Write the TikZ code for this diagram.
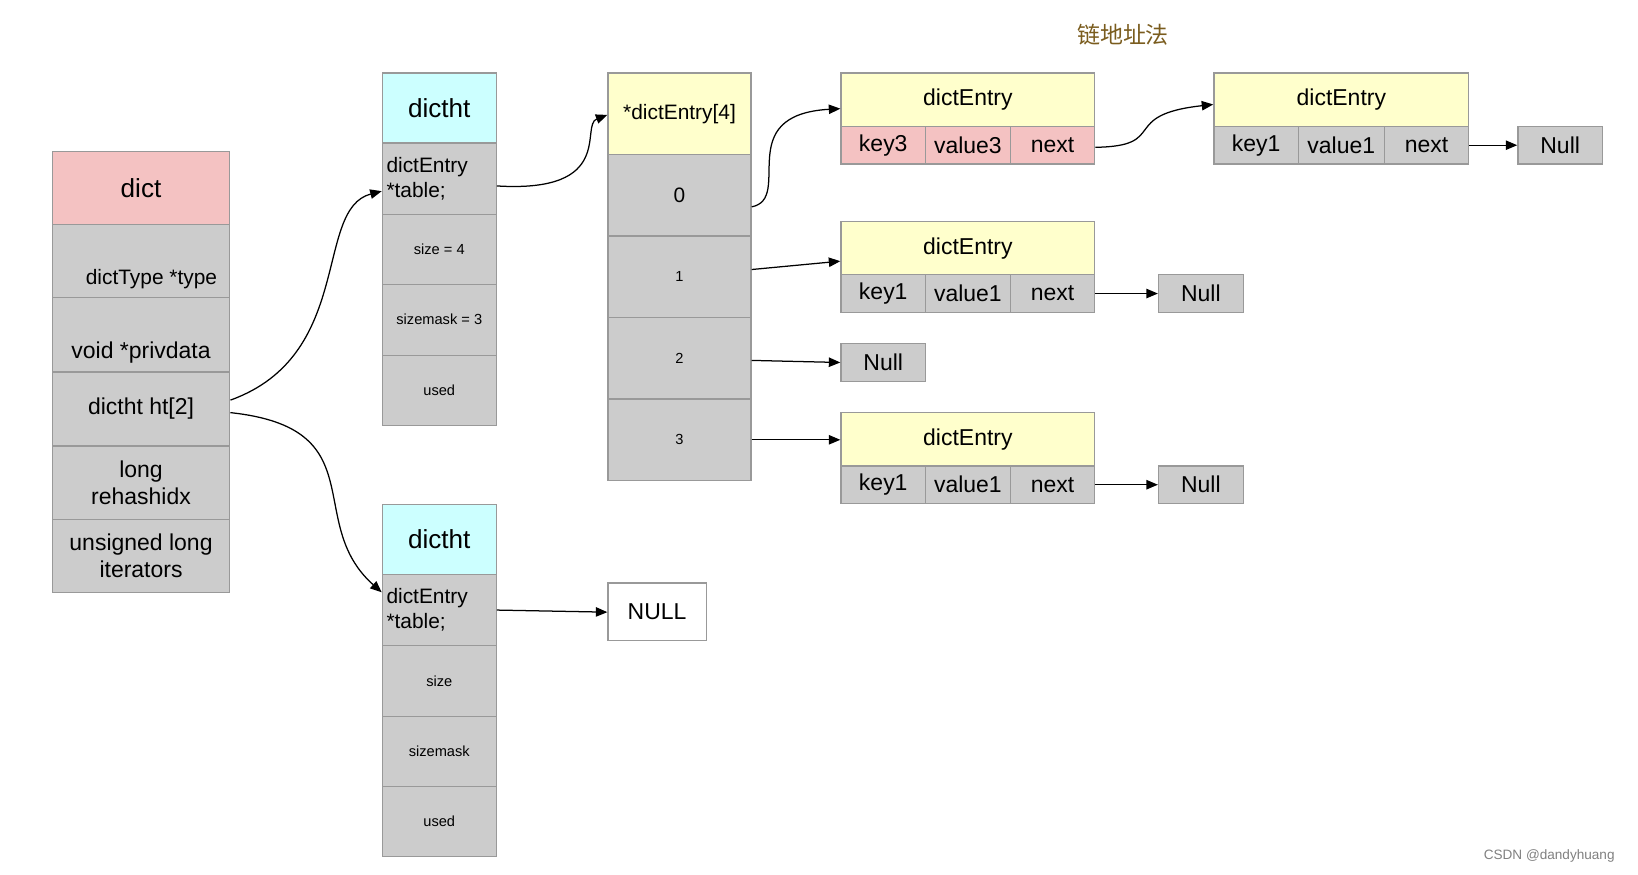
\documentclass[tikz,border=0pt]{standalone}
\usepackage{fontspec}
\setmainfont{Liberation Sans}
\newfontfamily\cjk{Noto Sans CJK SC}
\usetikzlibrary{arrows.meta}
\definecolor{gcell}{HTML}{CCCCCC}
\definecolor{gline}{HTML}{999999}
\definecolor{pinkc}{HTML}{F4C2C2}
\definecolor{cyanc}{HTML}{CCFFFF}
\definecolor{yelc}{HTML}{FFFFCC}
\definecolor{titlec}{HTML}{7A5C1E}
\tikzset{
 cell/.style={draw=gline,line width=1.2pt,fill=gcell,inner sep=0pt,align=center,font=\fontsize{20}{24}\selectfont},
 big/.style={font=\fontsize{25}{30}\selectfont},
 med/.style={font=\fontsize{22}{26}\selectfont},
 small/.style={font=\fontsize{14}{17}\selectfont},
 arr/.style={line width=1.2pt,-{Triangle[length=11pt,width=9pt]}},
}
\newcommand{\cel}[7]{\node[cell,#1,minimum width=#4pt,minimum height=#5pt] (#2) at (#3) {#6};}
\begin{document}
\begin{tikzpicture}[x=1pt,y=-1pt]
\useasboundingbox (0,0) rectangle (1568,837);
% dict
\node[cell,big,fill=pinkc,minimum width=170pt,minimum height=70pt] (dh) at (135,180) {dict};
\node[cell,minimum width=170pt,minimum height=70pt,text height=48pt] (d1) at (135,250) {\quad dictType *type};
\node[cell,med,minimum width=170pt,minimum height=71pt,text height=50pt] (d2) at (135,320.5) {void *privdata};
\node[cell,med,minimum width=170pt,minimum height=71pt] (d3) at (135,391.5) {dictht ht[2]};
\node[cell,med,minimum width=170pt,minimum height=70pt] (d4) at (135,462) {long\\rehashidx};
\node[cell,med,minimum width=170pt,minimum height=70pt] (d5) at (135,532) {unsigned long\\iterators};
% dictht 1
\node[cell,big,fill=cyanc,minimum width=109pt,minimum height=67pt] (ah) at (420.5,103.5) {dictht};
\node[cell,align=left,minimum width=109pt,minimum height=68pt,text width=101pt] (a1) at (420.5,171) {dictEntry\\**table;};
\node[cell,small,minimum width=109pt,minimum height=67pt] (a2) at (420.5,238.5) {size = 4};
\node[cell,small,minimum width=109pt,minimum height=68pt] (a3) at (420.5,306) {sizemask = 3};
\node[cell,small,minimum width=109pt,minimum height=67pt] (a4) at (420.5,373.5) {used};
% dictht 2
\node[cell,big,fill=cyanc,minimum width=109pt,minimum height=67pt] (bh) at (420.5,516.5) {dictht};
\node[cell,align=left,minimum width=109pt,minimum height=68pt,text width=101pt] (b1) at (420.5,584) {dictEntry\\**table;};
\node[cell,small,minimum width=109pt,minimum height=68pt] (b2) at (420.5,652) {size};
\node[cell,small,minimum width=109pt,minimum height=67pt] (b3) at (420.5,719.5) {sizemask};
\node[cell,small,minimum width=109pt,minimum height=67pt] (b4) at (420.5,786.5) {used};
% array
\node[cell,fill=yelc,minimum width=137pt,minimum height=78pt] (th) at (650.5,109) {*dictEntry[4]};
\node[cell,minimum width=137pt,minimum height=78pt] (t0) at (650.5,187) {0};
\node[cell,small,minimum width=137pt,minimum height=78pt] (t1) at (650.5,265) {1};
\node[cell,small,minimum width=137pt,minimum height=78pt] (t2) at (650.5,343) {2};
\node[cell,small,minimum width=137pt,minimum height=78pt] (t3) at (650.5,421) {3};
\node[cell,med,fill=white,minimum width=94pt,minimum height=55pt] (nul) at (629,585.5) {NULL};
% entry A
\node[cell,med,fill=yelc,minimum width=243pt,minimum height=51pt] (eah) at (926.5,95.5) {dictEntry};
\node[cell,med,fill=pinkc,minimum width=81pt,minimum height=36pt] (eak) at (845.5,139) {key3};
\node[cell,med,fill=pinkc,minimum width=81pt,minimum height=36pt] (eav) at (926.5,139) {value3};
\node[cell,med,fill=pinkc,minimum width=81pt,minimum height=36pt] (ean) at (1007.5,139) {next};
% entry B
\node[cell,med,fill=yelc,minimum width=244pt,minimum height=51pt] (ebh) at (1284,95.5) {dictEntry};
\node[cell,med,minimum width=81pt,minimum height=36pt] (ebk) at (1202.5,139) {key1};
\node[cell,med,minimum width=82pt,minimum height=36pt] (ebv) at (1284,139) {value1};
\node[cell,med,minimum width=81pt,minimum height=36pt] (ebn) at (1365.5,139) {next};
\node[cell,med,minimum width=81pt,minimum height=36pt] (nb) at (1493.5,139) {Null};
% entry C
\node[cell,med,fill=yelc,minimum width=243pt,minimum height=51pt] (ech) at (926.5,237.5) {dictEntry};
\node[cell,med,minimum width=81pt,minimum height=36pt] (eck) at (845.5,281) {key1};
\node[cell,med,minimum width=81pt,minimum height=36pt] (ecv) at (926.5,281) {value1};
\node[cell,med,minimum width=81pt,minimum height=36pt] (ecn) at (1007.5,281) {next};
\node[cell,med,minimum width=81pt,minimum height=36pt] (nc) at (1149.5,281) {Null};
% Null for 2
\node[cell,med,minimum width=81pt,minimum height=36pt] (n2) at (845.5,347) {Null};
% entry D
\node[cell,med,fill=yelc,minimum width=243pt,minimum height=51pt] (edh) at (926.5,420.5) {dictEntry};
\node[cell,med,minimum width=81pt,minimum height=36pt] (edk) at (845.5,464) {key1};
\node[cell,med,minimum width=81pt,minimum height=36pt] (edv) at (926.5,464) {value1};
\node[cell,med,minimum width=81pt,minimum height=36pt] (edn) at (1007.5,464) {next};
\node[cell,med,minimum width=81pt,minimum height=36pt] (nd) at (1149.5,464) {Null};
% texts
\node[text=titlec,font=\cjk\fontsize{22}{26}\selectfont] (title) at (1075,33) {链地址法};
\node[text=gray,font=\fontsize{13}{15}\selectfont] (wm) at (1483,819) {CSDN @dandyhuang};
% arrows
\draw[arr] (d3.east |- 0,383) .. controls (340,340) and (300,200) .. (a1.west |- 0,183);
\draw[arr] (d3.east |- 0,395) .. controls (360,410) and (290,500) .. (b1.west |- 0,567);
\draw[arr] (a1.east |- 0,178) .. controls (590,185) and (555,120) .. (th.west |- 0,110);
\draw[arr] (t0.east |- 0,198) .. controls (760,190) and (700,110) .. (eah.west |- 0,104);
\draw[arr] (t1.east |- 0,258) -- (ech.west |- 0,250);
\draw[arr] (t2.east |- 0,345) -- (n2.west |- 0,347);
\draw[arr] (t3.east |- 0,421) -- (edh.west |- 0,421);
\draw[arr] (ean.east |- 0,141) .. controls (1120,140) and (1070,110) .. (ebh.west |- 0,100);
\draw[arr] (ebn) -- (nb);
\draw[arr] (ecn) -- (nc);
\draw[arr] (edn) -- (nd);
\draw[arr] (b1.east |- 0,584) -- (nul.west |- 0,586);
\end{tikzpicture}
\end{document}
